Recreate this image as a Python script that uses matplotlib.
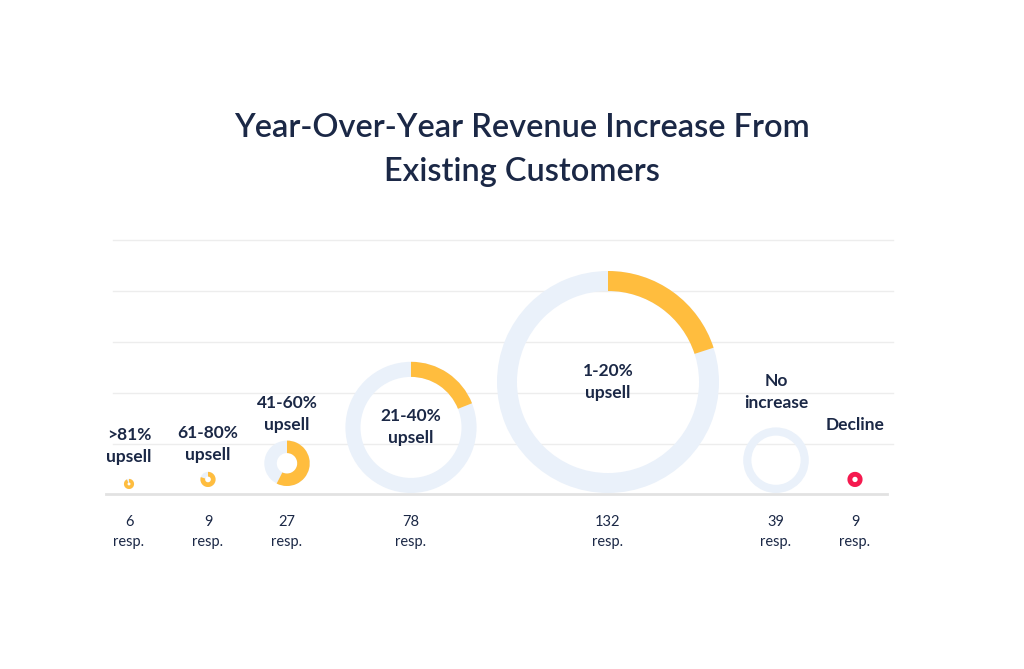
import matplotlib
matplotlib.use("Agg")
import matplotlib.pyplot as plt
from matplotlib.patches import Wedge

# ---- data ----
categories = [">81%\nupsell", "61-80%\nupsell", "41-60%\nupsell", "21-40%\nupsell",
              "1-20%\nupsell", "No\nincrease", "Decline"]
responses = [6, 9, 27, 78, 132, 39, 9]
highlight_share = [0.93, 0.80, 0.575, 0.19, 0.20, 0.0, 1.0]
title = "Year-Over-Year Revenue Increase From\nExisting Customers"

# ---- layout / style ----
col_x = [129, 208, 287, 411, 608, 776, 855]          # column centres (px)
ring_frac = [0.7, 0.62, 0.55, 0.23, 0.18, 0.25, 0.65]  # ring width / radius
donut_bottom = [489, 487, 486, 493, 493, 493, 487]
label_y = [446, 444, 414, None, None, 392, 425]       # None -> inside donut
baseline = 493
px_per_resp = 111 / 132
grid_y = [240, 291, 342, 393, 444]
navy = "#1B2846"
yellow = "#FFBD3E"
pale = "#EAF1FA"
red = "#F51A4F"

fig = plt.figure(figsize=(10.24, 6.69), dpi=100)
fig.patch.set_facecolor("white")
ax = fig.add_axes([0, 0, 1, 1])
ax.set_xlim(0, 1024)
ax.set_ylim(669, 0)
ax.axis("off")

font = ["Lato", "DejaVu Sans"]

for gy in grid_y:
    ax.plot([113, 893], [gy, gy], color="#EDEDED", lw=1, zorder=0)
ax.plot([106, 887], [baseline + 1, baseline + 1], color="#E2E2E2", lw=2, zorder=0)

for i, (cat, n, share) in enumerate(zip(categories, responses, highlight_share)):
    r = n * px_per_resp
    cx, cy = col_x[i], donut_bottom[i] - r
    w = r * ring_frac[i]
    if cat == "Decline":
        ax.add_patch(Wedge((cx, cy), r, 0, 360, width=w, color=red, lw=0))
    else:
        ax.add_patch(Wedge((cx, cy), r, 0, 360, width=w, color=pale, lw=0))
        if share > 0:
            ax.add_patch(Wedge((cx, cy), r, 270, 270 + 360 * share, width=w,
                               color=yellow, lw=0))
    ly = label_y[i] if label_y[i] is not None else cy
    ax.text(cx, ly, cat, ha="center", va="center", fontsize=12.5,
            fontweight="bold", color=navy, family=font, linespacing=1.45)
    ax.text(cx, 532, f"{n}\nresp.", ha="center", va="center", fontsize=10.5,
            color=navy, family=font, linespacing=1.5)

ax.text(522, 150, title, ha="center", va="center", fontsize=23.4,
        fontweight="semibold", color=navy, family=font, linespacing=1.62)

fig.savefig("out.png", dpi=100, facecolor="white")
